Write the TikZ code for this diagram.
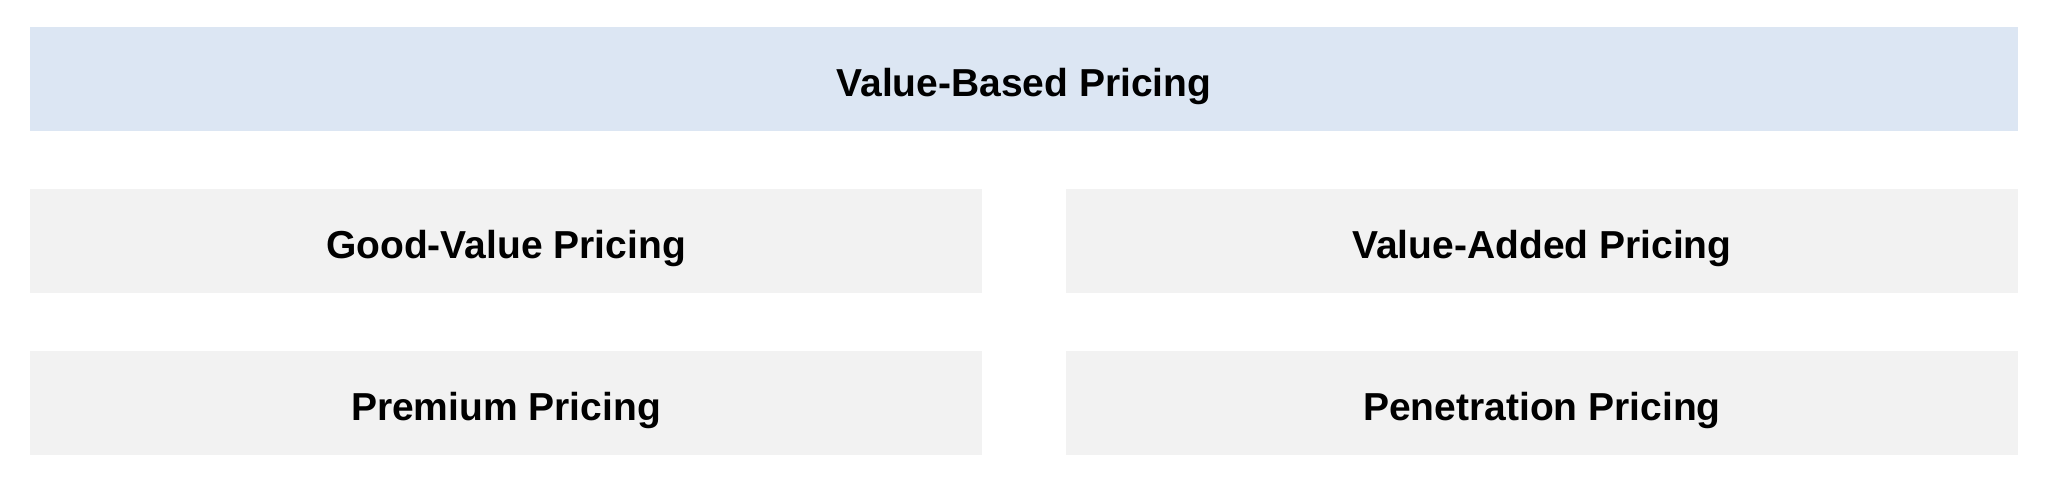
\documentclass[tikz,border=0pt]{standalone}
\usepackage{fontspec}
\setmainfont{Liberation Sans}
\definecolor{headblue}{HTML}{DCE6F3}
\definecolor{boxgray}{HTML}{F2F2F2}
\tikzset{
	pricebox/.style={fill=boxgray, inner sep=0pt, minimum width=476pt, minimum height=52pt,
		text height=17pt, text depth=0pt,
		font=\fontsize{19.5}{23}\selectfont\bfseries, text=black},
	headbox/.style={pricebox, fill=headblue, minimum width=994pt}
}
\begin{document}
\begin{tikzpicture}[x=0.5pt, y=-0.5pt]
	\useasboundingbox (0,0) rectangle (2048,487);

	\node[headbox] (top) at (1024,79) {Value-Based Pricing};

	\foreach \i / \x / \y / \t in {
	1/506/241/Good-Value Pricing,
	2/1542/241/Value-Added Pricing,
	3/506/403/Premium Pricing,
	4/1542/403/Penetration Pricing}
	{
		\node[pricebox] (p\i) at (\x,\y) {\t};
	};
\end{tikzpicture}
\end{document}
